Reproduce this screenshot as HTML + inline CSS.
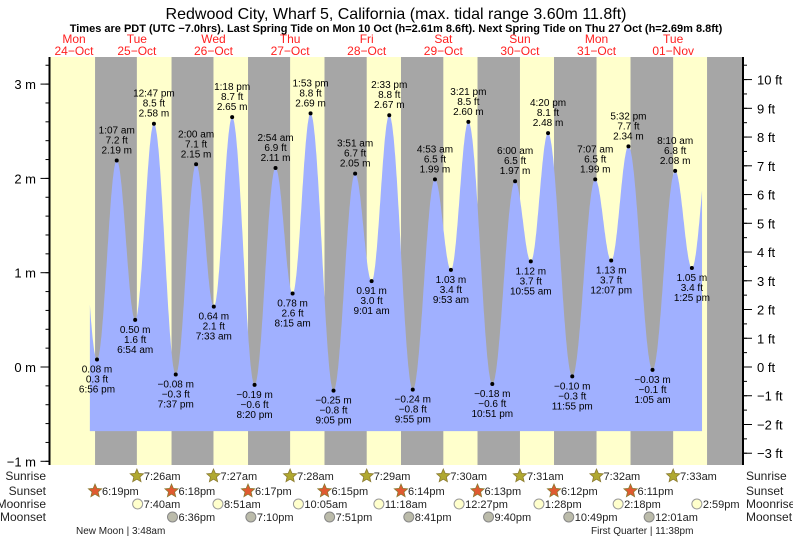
<!DOCTYPE html>
<html><head><meta charset="utf-8"><style>
body{margin:0;background:#fff;}
svg{display:block;font-family:"Liberation Sans",sans-serif;}
</style></head><body>
<svg id="chart" width="793" height="539" viewBox="0 0 793 539" xmlns="http://www.w3.org/2000/svg">
<text x="396" y="19" text-anchor="middle" font-size="16" fill="#000">Redwood City, Wharf 5, California (max. tidal range 3.60m 11.8ft)</text>
<text x="396" y="32" text-anchor="middle" font-size="11" font-weight="bold" fill="#000">Times are PDT (UTC −7.0hrs). Last Spring Tide on Mon 10 Oct (h=2.61m 8.6ft). Next Spring Tide on Thu 27 Oct (h=2.69m 8.8ft)</text>
<g id="bands"></g><g id="tide"></g><g id="axes"></g><g id="labels"></g><g id="astro"></g>
</svg>
<script>
// ---- data ----
const tideDay = [0,0,1,1,1,1,2,2,2,2,3,3,3,3,4,4,4,4,5,5,5,5,6,6,6,6,7,7,7,8,8,8,8];
const tideHour = [12.17,18.93,1.12,6.9,12.78,19.62,2.0,7.55,13.3,20.33,2.9,8.25,13.88,21.08,3.85,9.02,14.55,21.92,4.88,9.88,15.35,22.85,6.0,10.92,16.33,23.92,7.12,12.12,17.53,1.08,8.17,13.42,19.3];
const tideM = [2.45,0.08,2.19,0.50,2.58,-0.08,2.15,0.64,2.65,-0.19,2.11,0.78,2.69,-0.25,2.05,0.91,2.67,-0.24,1.99,1.03,2.60,-0.18,1.97,1.12,2.48,-0.10,1.99,1.13,2.34,-0.03,2.08,1.05,2.5];
const tideFt = [8.0,0.3,7.2,1.6,8.5,-0.3,7.1,2.1,8.7,-0.6,6.9,2.6,8.8,-0.8,6.7,3.0,8.8,-0.8,6.5,3.4,8.5,-0.6,6.5,3.7,8.1,-0.3,6.5,3.7,7.7,-0.1,6.8,3.4,8.2];
const tideLabel = ["","6:56 pm","1:07 am","6:54 am","12:47 pm","7:37 pm","2:00 am","7:33 am","1:18 pm","8:20 pm","2:54 am","8:15 am","1:53 pm","9:05 pm","3:51 am","9:01 am","2:33 pm","9:55 pm","4:53 am","9:53 am","3:21 pm","10:51 pm","6:00 am","10:55 am","4:20 pm","11:55 pm","7:07 am","12:07 pm","5:32 pm","1:05 am","8:10 am","1:25 pm",""];
const sunriseHour = [null,7.43,7.45,7.47,7.48,7.5,7.52,7.53,7.55];
const sunriseLabel = ["","7:26am","7:27am","7:28am","7:29am","7:30am","7:31am","7:32am","7:33am"];
const sunsetHour = [18.32,18.3,18.28,18.25,18.23,18.22,18.2,18.18,18.17];
const sunsetLabel = ["6:19pm","6:18pm","6:17pm","6:15pm","6:14pm","6:13pm","6:12pm","6:11pm",""];
const moonriseDay = [1,2,3,4,5,6,7,8];
const moonriseHour = [7.67,8.85,10.08,11.3,12.45,13.47,14.3,14.98];
const moonriseLabel = ["7:40am","8:51am","10:05am","11:18am","12:27pm","1:28pm","2:18pm","2:59pm"];
const moonsetDay = [1,2,3,4,5,6,8];
const moonsetHour = [18.6,19.17,19.85,20.68,21.67,22.82,0.02];
const moonsetLabel = ["6:36pm","7:10pm","7:51pm","8:41pm","9:40pm","10:49pm","12:01am"];
const dayNames = ["Mon","Tue","Wed","Thu","Fri","Sat","Sun","Mon","Tue"];
const dayDates = ["24\u2212Oct","25\u2212Oct","26\u2212Oct","27\u2212Oct","28\u2212Oct","29\u2212Oct","30\u2212Oct","31\u2212Oct","01\u2212Nov"];
const mTicks = [-1,0,1,2,3];
const ftTicks = [-3,-2,-1,0,1,2,3,4,5,6,7,8,9,10];
const dataStart = 16.7, dataEnd = 208.6;

// ---- scales ----
const X0 = 36.6, PXH = 3.19, L = 49.5, R = 743, T = 57, B = 465;
const x = h => X0 + h * PXH;
const ym = m => 367 - m * 94.3;
const yft = f => ym(f * 0.3048);
const NS = "http://www.w3.org/2000/svg";
function mk(tag, attrs, parent, text){ const e=document.createElementNS(NS,tag); for(const k in attrs) e.setAttribute(k,attrs[k]); if(text!==undefined) e.textContent=text; parent.appendChild(e); return e; }

const bands = document.getElementById('bands');
let bg = mk('rect',{x:L,y:T,width:R-L,height:B-T,fill:'#ffffcc'},bands);


for(let d=0; d<9; d++){
  const s = x(d*24 + sunsetHour[d]);
  const e = d<8 ? x((d+1)*24 + sunriseHour[d+1]) : R;
  const r = mk('rect',{x:s,y:T,width:Math.min(e,R)-s,height:B-T,fill:'#a6a6a6'},bands);
  
  
}

// tide curve
const ext = tideDay.map((d,i)=>d*24+tideHour[i]);
function level(h){
  for(let i=0;i<ext.length-1;i++){
    if(h>=ext[i] && h<=ext[i+1]){
      const f=(h-ext[i])/(ext[i+1]-ext[i]);
      return tideM[i]+(tideM[i+1]-tideM[i])*(1-Math.cos(Math.PI*f))/2;
    }
  }
  return tideM[tideM.length-1];
}
const yBase = ym(-0.68);
let pts = [`${x(dataStart)},${yBase}`];
for(let h=dataStart; h<=dataEnd; h+=0.1) pts.push(`${x(h).toFixed(1)},${ym(level(h)).toFixed(1)}`);
pts.push(`${x(dataEnd)},${ym(level(dataEnd)).toFixed(1)}`);
pts.push(`${x(dataEnd)},${yBase}`);
const tide = document.getElementById('tide');
const poly = mk('polygon',{points:pts.join(' '),fill:'#a0b0ff'},tide);



// extrema labels
const lab = document.getElementById('labels');
for(let i=1;i<ext.length-1;i++){
  const cx=x(ext[i]), cy=ym(tideM[i]);
  const dot = mk('circle',{cx:cx,cy:cy,r:2,fill:'#000'},lab);
  
  
  const high = tideM[i] > tideM[i-1];
  const m = (tideM[i]<0?'\u2212':'')+Math.abs(tideM[i]).toFixed(2)+' m';
  const ft = (tideFt[i]<0?'\u2212':'')+Math.abs(tideFt[i]).toFixed(1)+' ft';
  const lines = high ? [tideLabel[i],ft,m] : [m,ft,tideLabel[i]];
  const g = mk('g',{},lab);
  
  
  lines.forEach((t,k)=>{
    const yy = high ? cy-27+k*10 : cy+13+k*10;
    mk('text',{x:cx,y:yy,'text-anchor':'middle','font-size':10,fill:'#000'},g,t);
  });
}

// axes
const ax = document.getElementById('axes');
let a1 = mk('line',{x1:L,y1:T,x2:L,y2:B,stroke:'#000','stroke-width':2},ax);


let a2 = mk('line',{x1:R,y1:T,x2:R,y2:B,stroke:'#000','stroke-width':2},ax);


for(let v=-1; v<=3.21; v+=0.2){
  const yy=ym(v); if(yy<T) continue;
  mk('line',{x1:L-4,y1:yy,x2:L,y2:yy,stroke:'#000'},ax);
}
mTicks.forEach(v=>{
  const yy=ym(v);
  mk('line',{x1:L-9,y1:yy,x2:L,y2:yy,stroke:'#000'},ax);
  const t=mk('text',{x:36,y:yy+5,'text-anchor':'end','font-size':13,fill:'#000'},ax,(v<0?'\u2212':'')+Math.abs(v)+' m');
  
  
});
for(let v=-3.5; v<=10.6; v+=0.5){
  const yy=yft(v); if(yy<T||yy>B) continue;
  mk('line',{x1:R,y1:yy,x2:R+4,y2:yy,stroke:'#000'},ax);
}
ftTicks.forEach(v=>{
  const yy=yft(v);
  mk('line',{x1:R,y1:yy,x2:R+9,y2:yy,stroke:'#000'},ax);
  const t=mk('text',{x:757,y:yy+5,'font-size':13,fill:'#000'},ax,(v<0?'\u2212':'')+Math.abs(v)+' ft');
  
  
});
dayNames.forEach((n,d)=>{
  const cx = d===0 ? 74 : x(d*24+sunriseHour[d]);
  const g=mk('g',{},ax);
  
  
  mk('text',{x:cx,y:43,'text-anchor':'middle','font-size':12,fill:'#ff2020'},g,n);
  mk('text',{x:cx,y:55,'text-anchor':'middle','font-size':12,fill:'#ff2020'},g,dayDates[d]);
});

// astro rows
const as = document.getElementById('astro');
const rows=[["Sunrise",476],["Sunset",491],["Moonrise",504],["Moonset",517]];
rows.forEach(([n,yy])=>{
  let t=mk('text',{x:46,y:yy+4,'text-anchor':'end','font-size':12,fill:'#222'},as,n);
  
  
  t=mk('text',{x:746,y:yy+4,'font-size':12,fill:'#222'},as,n);
  
  
});
function star(cx,cy,fill){
  let p=[];
  for(let k=0;k<10;k++){const r=k%2?3.2:7,a=-Math.PI/2+k*Math.PI/5;p.push((cx+r*Math.cos(a)).toFixed(1)+','+(cy+r*Math.sin(a)).toFixed(1));}
  return mk('polygon',{points:p.join(' '),fill:fill,stroke:'#8a7a30','stroke-width':0.8},as);
}
for(let d=1;d<9;d++){
  const cx=x(d*24+sunriseHour[d]);
  const s=star(cx,476,'#b0a830');
  
  
  mk('text',{x:cx+7,y:480,'font-size':11,fill:'#222'},as,sunriseLabel[d]);
}
for(let d=0;d<8;d++){
  const cx=x(d*24+sunsetHour[d]);
  const s=star(cx,491,'#e05a30');
  
  
  mk('text',{x:cx+7,y:495,'font-size':11,fill:'#222'},as,sunsetLabel[d]);
}
moonriseDay.forEach((d,i)=>{
  const cx=x(d*24+moonriseHour[i]);
  const c=mk('circle',{cx:cx,cy:504,r:5,fill:'#ffffcc',stroke:'#999'},as);
  
  
  mk('text',{x:cx+6,y:508,'font-size':11,fill:'#222'},as,moonriseLabel[i]);
});
moonsetDay.forEach((d,i)=>{
  const cx=x(d*24+moonsetHour[i]);
  const c=mk('circle',{cx:cx,cy:517,r:5,fill:'#bbbbaa',stroke:'#888'},as);
  
  
  mk('text',{x:cx+6,y:521,'font-size':11,fill:'#222'},as,moonsetLabel[i]);
});
let np=mk('text',{x:76,y:534,'font-size':10,fill:'#222'},as,"New Moon | 3:48am");


np=mk('text',{x:591,y:534,'font-size':10,fill:'#222'},as,"First Quarter | 11:38pm");


</script>
</body></html>
